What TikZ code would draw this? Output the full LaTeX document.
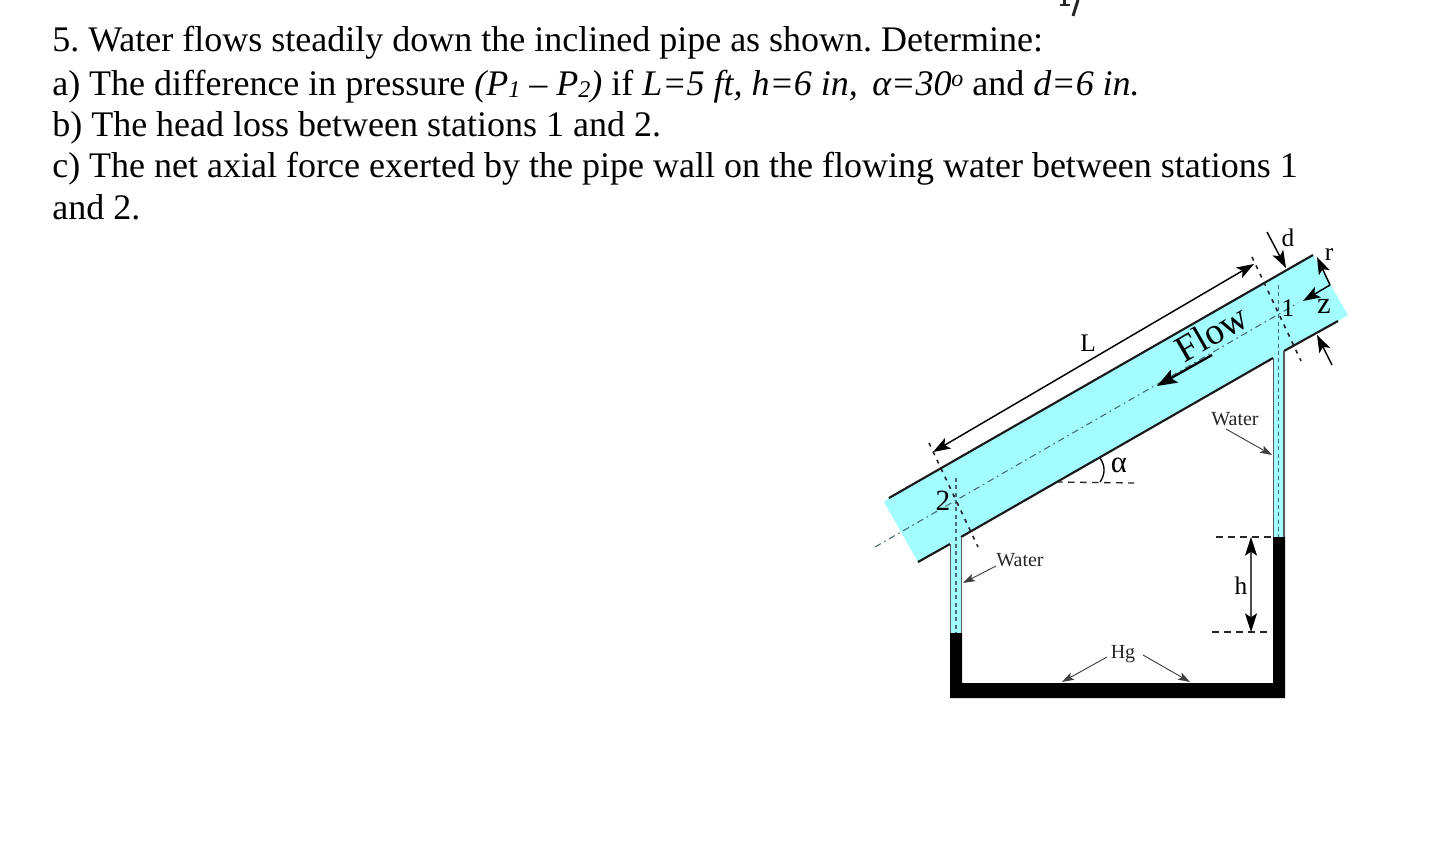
\documentclass[tikz,border=0pt]{standalone}
\usepackage{fontspec}
\setmainfont{Liberation Serif}
\usetikzlibrary{arrows.meta}
\frenchspacing
\definecolor{pipecyan}{RGB}{163,252,255}
\definecolor{cl}{RGB}{70,110,110}
\tikzset{
 x=0.75pt,y=-0.75pt,
 qline/.style={anchor=base west,inner sep=0,font=\fontsize{27pt}{30pt}\selectfont},
 lbl/.style={inner sep=0,font=\fontsize{19pt}{20pt}\selectfont},
 small/.style={inner sep=0,text=black!85,font=\fontsize{15pt}{16pt}\selectfont},
 wall/.style={line width=1.6pt,black!90},
 tube/.style={line width=1.3pt,black!65},
 dimb/.style={line width=1.1pt,black,-{Stealth[length=13pt,width=9pt,inset=3pt]}},
 dimg/.style={line width=0.7pt,black!75,-{Stealth[length=9pt,width=6pt,inset=2pt]}},
 centre/.style={line width=0.8pt,cl,dash pattern=on 5pt off 3pt on 1.2pt off 3pt},
 vcentre/.style={line width=1pt,cl,dash pattern=on 3pt off 2.5pt},
 station/.style={line width=1.2pt,black!85,dash pattern=on 3pt off 4pt},
 hdash/.style={line width=1pt,black!85,dash pattern=on 5pt off 4pt},
}
\begin{document}
\begin{tikzpicture}
\useasboundingbox (0,0) rectangle (1444,848);
\fill[white] (0,0) rectangle (1444,848);
% clipped fragment of a line above the page crop
\fill[black!85] (1063,0) rectangle (1066,5);
\fill[black!85] (1060,4.5) rectangle (1070,6.5);
\draw[line width=2.2pt,black!85] (1078,0) -- (1073,16);
% question text
\node[qline] (q1) at (52,52) {5. Water flows steadily down the inclined pipe as shown. Determine:};
\node[qline] (q2) at (52,96) {a) The difference in pressure \textit{(P\raisebox{-1pt}{\fontsize{18pt}{18pt}\selectfont 1} -- P\raisebox{-1pt}{\fontsize{18pt}{18pt}\selectfont 2})} if \textit{L=5 ft, h=6 in,\hspace{4pt} α=30\raisebox{7pt}{\fontsize{18pt}{18pt}\selectfont o}} and \textit{d=6 in.}};
\node[qline] (q3) at (52,137) {b) The head loss between stations 1 and 2.};
\node[qline] (q4) at (52,178) {c) The net axial force exerted by the pipe wall on the flowing water between stations 1};
\node[qline] (q5) at (52,220) {and 2.};
% pipe
\fill[pipecyan] (884,502) -- (889,498) -- (1313,255) -- (1348,315) -- (1338,321) -- (918,562) -- cycle;
\fill[pipecyan] (951,535) rectangle (961,633);
\fill[pipecyan] (1273,350) rectangle (1284,537);
% mercury
\fill[black] (950,633) -- (962,633) -- (962,683) -- (1273,683) -- (1273,537) -- (1285,537) -- (1285,698) -- (950,698) -- cycle;
% coordinates
\coordinate (pa) at (889,498); \coordinate (pb) at (1313,255);
\coordinate (pc) at (918,562); \coordinate (pd) at (950,544);
\coordinate (pe) at (961,537); \coordinate (pf) at (1273,358);
\coordinate (pg) at (1284,351); \coordinate (ph) at (1338,321);
\draw[wall] (pa) -- (pb);
\draw[wall] (pc) -- (pd);
\draw[wall] (pe) -- (pf);
\draw[wall] (pg) -- (ph);
% tube walls
\draw[tube] (950.5,544) -- (950.5,633);
\draw[tube] (961.5,537) -- (961.5,633);
\draw[tube] (1273.5,358) -- (1273.5,537);
\draw[tube] (1284,351) -- (1284,537);
% centre lines
\coordinate (cla) at (875,547); \coordinate (clb) at (1298,303);
\draw[centre] (cla) -- (clb);
\coordinate (va) at (956,478); \coordinate (vb) at (956,633);
\draw[vcentre] (va) -- (vb);
\coordinate (vc) at (1278.5,285); \coordinate (vd) at (1278.5,537);
\draw[vcentre] (vc) -- (vd);
% stations
\coordinate (s1a) at (1252,257); \coordinate (s1b) at (1301,361);
\coordinate (s2a) at (929,443); \coordinate (s2b) at (978,547);
\draw[station] (s1a) -- (s1b);
\draw[station] (s2a) -- (s2b);
% length arrow
\coordinate (la) at (933,452); \coordinate (lb) at (1254,264);
\draw[line width=1.1pt,{Stealth[length=13pt,width=9pt,inset=3pt]}-{Stealth[length=13pt,width=9pt,inset=3pt]}] (la) -- (lb);
\node[lbl] (lL) at (1088,343) {L};
% flow
\node[inner sep=0,rotate=30,font=\fontsize{28pt}{28pt}\selectfont] (flow) at (1211,333) {Flow};
\coordinate (fa) at (1212,355); \coordinate (fb) at (1157,386);
\draw[line width=1.7pt,-{Stealth[length=15pt,width=11pt,inset=3pt]}] (fa) -- (fb);
% right end dims
\node[lbl] (ld) at (1288,238) {d};
\coordinate (da) at (1267,232); \coordinate (db) at (1286,268);
\draw[dimb] (da) -- (db);
\node[lbl] (lr) at (1329,255) {r};
\coordinate (ra) at (1330,285); \coordinate (rb) at (1317,257);
\draw[dimb] (ra) -- (rb);
\coordinate (rc) at (1332,365); \coordinate (rd) at (1317,335);
\draw[dimb] (rc) -- (rd);
\coordinate (za) at (1330,285); \coordinate (zb) at (1303,301);
\draw[dimb] (za) -- (zb);
\node[lbl,font=\fontsize{23pt}{23pt}\selectfont] (lz) at (1324,306) {z};
\node[lbl] (l1) at (1288,308) {1};
\node[lbl,font=\fontsize{22pt}{22pt}\selectfont] (l2) at (943,501) {2};
% alpha
\coordinate (ha) at (1056,482); \coordinate (hb) at (1134,483);
\draw[hdash] (ha) -- (hb);
\coordinate (aa) at (1100,458); \coordinate (ab) at (1100,482);
\draw[line width=1pt] (aa) to[bend left=35] (ab);
\node[lbl,font=\fontsize{23pt}{23pt}\selectfont] (lalpha) at (1119,465) {α};
% h
\coordinate (h1a) at (1216,537); \coordinate (h1b) at (1272,537);
\coordinate (h2a) at (1212,632); \coordinate (h2b) at (1270,632);
\draw[hdash] (h1a) -- (h1b);
\draw[hdash] (h2a) -- (h2b);
\coordinate (hu) at (1251,537); \coordinate (hd) at (1251,632);
\draw[line width=0.8pt,black!70,{Stealth[length=14pt,width=9pt,inset=3pt,black]}-{Stealth[length=14pt,width=9pt,inset=3pt,black]}] (hu) -- (hd);
\node[lbl] (lh) at (1241,586) {h};
% water and Hg labels
\node[small] (w1) at (1020,560) {Water};
\coordinate (w1a) at (996,566); \coordinate (w1b) at (963,583);
\draw[dimg] (w1a) -- (w1b);
\node[small] (w2) at (1235,419) {Water};
\coordinate (w2a) at (1226,429); \coordinate (w2b) at (1272,455);
\draw[dimg] (w2a) -- (w2b);
\node[small] (hg) at (1123,654) {Hg};
\coordinate (g1a) at (1107,657); \coordinate (g1b) at (1062,682);
\coordinate (g2a) at (1143,655); \coordinate (g2b) at (1190,682);
\draw[dimg] (g1a) -- (g1b);
\draw[dimg] (g2a) -- (g2b);
\end{tikzpicture}
\end{document}
